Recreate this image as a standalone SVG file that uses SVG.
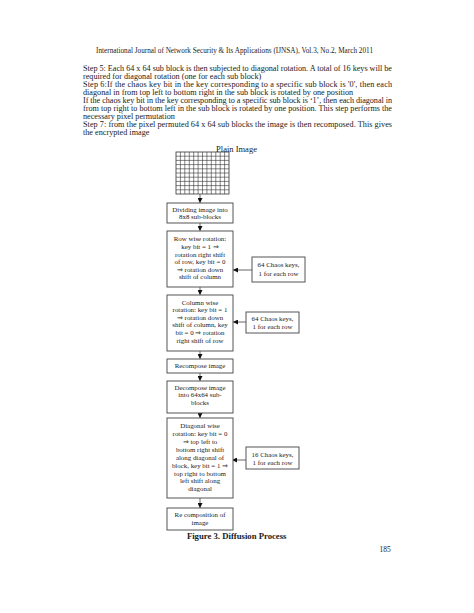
<svg xmlns="http://www.w3.org/2000/svg" width="474" height="613" viewBox="0 0 474 613">
<style>
text{font-family:"Liberation Serif","Times New Roman",serif;fill:#1a1a1a}
.b{font-size:8.2px}
.n{font-size:6.9px;text-anchor:middle}
.box{fill:#fff;stroke:#555;stroke-width:1}
.c{stroke:#666;stroke-width:1;fill:none}
.g{stroke:#333;stroke-width:0.6;fill:none}
</style>
<defs>
<marker id="ah" viewBox="0 0 6 6" refX="6" refY="3" markerWidth="5" markerHeight="5" orient="auto" markerUnits="userSpaceOnUse">
<path d="M0,0 L6,3 L0,6 Z" fill="#111"/>
</marker>
</defs>
<rect width="474" height="613" fill="#fff"/>
<g id="header">
<text x="96" y="52.5" font-size="7.2" textLength="277" lengthAdjust="spacing">International Journal of Network Security &amp; Its Applications (IJNSA), Vol.3, No.2, March 2011</text>
</g>
<g id="body">
<text class="b" x="83" y="70.5" textLength="309" lengthAdjust="spacing">Step 5: Each 64 x 64 sub block is then subjected to diagonal rotation. A total of 16 keys will be</text>
<text class="b" x="83" y="78.6">required for diagonal rotation (one for each sub block)</text>
<text class="b" x="83" y="86.7" textLength="309" lengthAdjust="spacing">Step 6:If the chaos key bit in the key corresponding to a specific sub block is '0', then each</text>
<text class="b" x="83" y="94.8">diagonal in from top left to bottom right in the sub block is rotated by one position</text>
<text class="b" x="83" y="102.9" textLength="309" lengthAdjust="spacing">If the chaos key bit in the key corresponding to a specific sub block is ‘1’, then each diagonal in</text>
<text class="b" x="83" y="111" textLength="309" lengthAdjust="spacing">from top right to bottom left in the sub block is rotated by one position. This step performs the</text>
<text class="b" x="83" y="119.1">necessary pixel permutation</text>
<text class="b" x="83" y="127.2" textLength="309" lengthAdjust="spacing">Step 7: from the pixel permuted 64 x 64 sub blocks the image is then recomposed. This gives</text>
<text class="b" x="83" y="135.3">the encrypted image</text>
</g>
<g id="plain-image">
<rect x="176" y="152" width="53" height="42" fill="#fff" stroke="#333" stroke-width="0.8"/>
<path class="g" d="M180.4,152V194M184.8,152V194M189.3,152V194M193.7,152V194M198.1,152V194M202.5,152V194M206.9,152V194M211.3,152V194M215.8,152V194M220.2,152V194M224.6,152V194M176,156.2H229M176,160.4H229M176,164.6H229M176,168.8H229M176,173H229M176,177.2H229M176,181.4H229M176,185.6H229M176,189.8H229"/>
<text x="236.5" y="152" font-size="8.5" text-anchor="middle">Plain Image</text>
</g>
<g id="connectors">
<line class="c" x1="200" y1="194" x2="200" y2="203" marker-end="url(#ah)"/>
<line class="c" x1="200" y1="223" x2="200" y2="231" marker-end="url(#ah)"/>
<line class="c" x1="200" y1="287" x2="200" y2="295" marker-end="url(#ah)"/>
<line class="c" x1="200" y1="351" x2="200" y2="359" marker-end="url(#ah)"/>
<line class="c" x1="200" y1="373" x2="200" y2="381" marker-end="url(#ah)"/>
<line class="c" x1="200" y1="413" x2="200" y2="418" marker-end="url(#ah)"/>
<line class="c" x1="200" y1="498" x2="200" y2="508" marker-end="url(#ah)"/>
<line class="c" x1="252" y1="270" x2="233" y2="270" marker-end="url(#ah)"/>
<line class="c" x1="246" y1="322" x2="233" y2="322" marker-end="url(#ah)"/>
<line class="c" x1="246" y1="460" x2="232" y2="460" marker-end="url(#ah)"/>
</g>
<g id="divide">
<rect class="box" x="167" y="203" width="66" height="20"/>
<text class="n" x="200" y="211.6">Dividing image into</text>
<text class="n" x="200" y="219.1">8x8 sub-blocks</text>
</g>
<g id="row-rotation">
<rect class="box" x="167" y="231" width="66" height="56"/>
<text class="n" x="200" y="241.4">Row wise rotation:</text>
<text class="n" x="200" y="249">key bit = 1 ⇒</text>
<text class="n" x="200" y="256.6">rotation right shift</text>
<text class="n" x="200" y="264.2">of row, key bit = 0</text>
<text class="n" x="200" y="271.8">⇒ rotation down</text>
<text class="n" x="200" y="279.4">shift of column</text>
</g>
<g id="keys-row">
<rect class="box" x="252" y="257" width="53" height="25"/>
<text class="n" x="278.5" y="267.3">64 Chaos keys,</text>
<text class="n" x="278.5" y="276.1">1 for each row</text>
</g>
<g id="column-rotation">
<rect class="box" x="167" y="295" width="66" height="56"/>
<text class="n" x="200" y="304.6">Column wise</text>
<text class="n" x="200" y="312.2">rotation: key bit = 1</text>
<text class="n" x="200" y="319.8">⇒ rotation down</text>
<text class="n" x="200" y="327.4">shift of column, key</text>
<text class="n" x="200" y="335">bit = 0 ⇒ rotation</text>
<text class="n" x="200" y="342.6">right shift of row</text>
</g>
<g id="keys-column">
<rect class="box" x="246" y="312" width="53" height="21"/>
<text class="n" x="272.5" y="321.1">64 Chaos keys,</text>
<text class="n" x="272.5" y="328.9">1 for each row</text>
</g>
<g id="recompose">
<rect class="box" x="167" y="359" width="66" height="14"/>
<text class="n" x="200" y="368.4">Recompose image</text>
</g>
<g id="decompose">
<rect class="box" x="167" y="381" width="66" height="32"/>
<text class="n" x="200" y="390.1">Decompose image</text>
<text class="n" x="200" y="397.4">into 64x64 sub-</text>
<text class="n" x="200" y="404.7">blocks</text>
</g>
<g id="diagonal-rotation">
<rect class="box" x="167" y="418" width="66" height="80"/>
<text class="n" x="200" y="428.1">Diagonal wise</text>
<text class="n" x="200" y="436">rotation: key bit = 0</text>
<text class="n" x="200" y="443.9">⇒ top left to</text>
<text class="n" x="200" y="451.8">bottom right shift</text>
<text class="n" x="200" y="459.7">along diagonal of</text>
<text class="n" x="200" y="467.6">block, key bit = 1 ⇒</text>
<text class="n" x="200" y="475.5">top right to bottom</text>
<text class="n" x="200" y="483.4">left shift along</text>
<text class="n" x="200" y="491.3">diagonal</text>
</g>
<g id="keys-diagonal">
<rect class="box" x="246" y="447" width="53" height="22"/>
<text class="n" x="272.5" y="457.4">16 Chaos keys,</text>
<text class="n" x="272.5" y="464.9">1 for each row</text>
</g>
<g id="recomposition">
<rect class="box" x="167" y="508" width="66" height="22"/>
<text class="n" x="200" y="517.4">Re composition of</text>
<text class="n" x="200" y="524.7">image</text>
</g>
<g id="caption">
<text x="236.7" y="539" font-size="8.7" font-weight="bold" text-anchor="middle">Figure 3. Diffusion Process</text>
</g>
<g id="page-number">
<text x="385" y="551.5" font-size="7.5" text-anchor="middle">185</text>
</g>
</svg>
